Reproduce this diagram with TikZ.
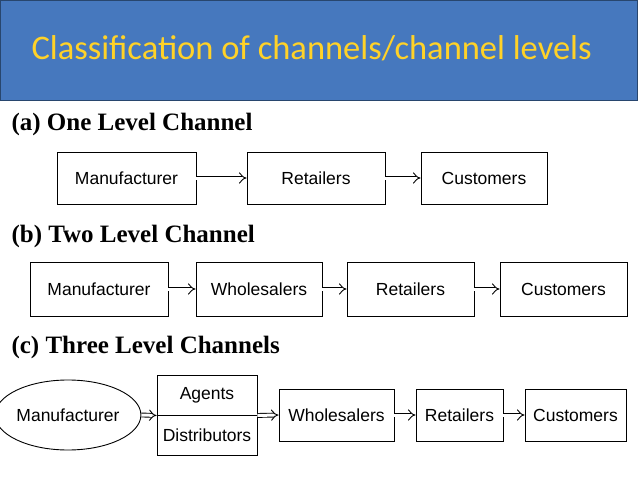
\documentclass[tikz,border=0pt]{standalone}
\usepackage{fontspec}
\setmainfont{Liberation Sans}
\newfontfamily\hdr{Carlito}
\newfontfamily\ttl{Liberation Serif}
\usetikzlibrary{arrows.meta,shapes.geometric}
\begin{document}
\begin{tikzpicture}[x=1pt,y=-1pt,
 bx/.style={draw,line width=0.9pt,rectangle,inner sep=0pt,font=\fontsize{17.5}{20}\selectfont},
 ar/.style={double,double distance=3pt,line width=0.9pt,-{Implies}},
 ttlst/.style={anchor=west,font=\ttl\bfseries\fontsize{25}{28}\selectfont}]
\useasboundingbox (0,0) rectangle (638,479);
\fill[white] (0,0) rectangle (638,479);
\node[draw={rgb,255:red,40;green,70;blue,110},fill={rgb,255:red,70;green,120;blue,190},line width=1pt,minimum width=637pt,minimum height=100pt,inner sep=0pt] (hd) at (319,50) {};
\node[anchor=west,text={rgb,255:red,255;green,210;blue,40},font=\hdr\fontsize{34.5}{38}\selectfont] (ht) at (28,48) {Classification of channels/channel levels};
% a
\node[ttlst] (ta) at (8,124) {(a) One Level Channel};
\node[bx,minimum width=139pt,minimum height=52pt] (a1) at (126.5,178) {Manufacturer};
\node[bx,minimum width=138pt,minimum height=52pt] (a2) at (316,178) {Retailers};
\node[bx,minimum width=126pt,minimum height=52pt] (a3) at (484,178) {Customers};
\draw[ar] (a1) -- (a2);
\draw[ar] (a2) -- (a3);
% b
\node[ttlst] (tb) at (8,236) {(b) Two Level Channel};
\node[bx,minimum width=138pt,minimum height=54pt] (b1) at (99,289) {Manufacturer};
\node[bx,minimum width=126pt,minimum height=54pt] (b2) at (259,289) {Wholesalers};
\node[bx,minimum width=127pt,minimum height=54pt] (b3) at (410.5,289) {Retailers};
\node[bx,minimum width=127pt,minimum height=54pt] (b4) at (563.5,289) {Customers};
\draw[ar] (b1) -- (b2);
\draw[ar] (b2) -- (b3);
\draw[ar] (b3) -- (b4);
% c
\node[ttlst] (tc) at (8,347) {(c) Three Level Channels};
\node[draw,line width=0.9pt,ellipse,minimum width=126pt,minimum height=70pt,inner sep=0pt,font=\fontsize{17.5}{20}\selectfont] (c1) at (68,415) {Manufacturer};
\node[bx,minimum width=100pt,minimum height=40pt] (c2a) at (207,395) {Agents};
\node[bx,minimum width=100pt,minimum height=40pt] (c2b) at (207,435) {Distributors};
\node[bx,minimum width=115pt,minimum height=52pt] (c3) at (336.5,415) {Wholesalers};
\node[bx,minimum width=87pt,minimum height=52pt] (c4) at (459.5,415) {Retailers};
\node[bx,minimum width=101pt,minimum height=52pt] (c5) at (575.5,415) {Customers};
\draw[ar] (c1.east) -- (c2a.south west);
\draw[ar] (c2a.south east) -- (c3.west);
\draw[ar] (c3) -- (c4);
\draw[ar] (c4) -- (c5);
\end{tikzpicture}
\end{document}
